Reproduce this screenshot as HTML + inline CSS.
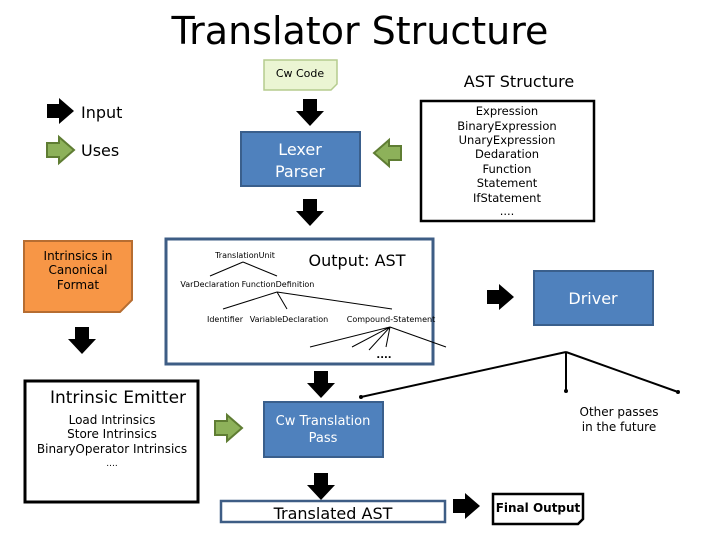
<!DOCTYPE html>
<html><head><meta charset="utf-8"><style>
html,body{margin:0;padding:0;background:#fff;}
svg{display:block;font-family:"DejaVu Sans","Liberation Sans",sans-serif;}
</style></head><body>
<svg width="720" height="540" viewBox="0 0 720 540" xmlns="http://www.w3.org/2000/svg">
<defs>
<path id="dn" d="M-7,0 H7 V12 H14 L0,27 L-14,12 H-7 Z"/>
<path id="rt" d="M0,-7 V7 H12 V13 L27,0 L12,-13 V-7 Z"/>
<path id="lf" d="M0,-7 V7 H-12 V13 L-27,0 L-12,-13 V-7 Z"/>
</defs>
<rect width="720" height="540" fill="#fff"/>
<text x="360" y="44" font-size="38" text-anchor="middle" fill="#000">Translator Structure</text>

<!-- legend -->
<use href="#rt" x="47" y="111" fill="#000"/>
<text x="81" y="118" font-size="16">Input</text>
<use href="#rt" x="47" y="150" fill="#8db15a" stroke="#5f7d33" stroke-width="2"/>
<text x="81" y="156" font-size="16">Uses</text>

<!-- Cw code note -->
<path d="M264,60 H337 V84 L331,90 H264 Z" fill="#ebf5d3" stroke="#b5cc8e" stroke-width="1.5"/>
<text x="300" y="77" font-size="11" text-anchor="middle">Cw Code</text>
<use href="#dn" x="310" y="99" fill="#000"/>

<text x="519" y="87" font-size="16" text-anchor="middle">AST Structure</text>
<rect x="421" y="101" width="173" height="120" fill="#fff" stroke="#000" stroke-width="2.5"/>
<g font-size="11.5" text-anchor="middle">
<text x="507" y="115">Expression</text>
<text x="507" y="130">BinaryExpression</text>
<text x="507" y="144">UnaryExpression</text>
<text x="507" y="158">Dedaration</text>
<text x="507" y="173">Function</text>
<text x="507" y="187">Statement</text>
<text x="507" y="202">IfStatement</text>
<text x="507" y="215">....</text>
</g>

<rect x="241" y="132" width="119" height="54" fill="#4f81bd" stroke="#3a5f8c" stroke-width="2"/>
<text x="300" y="155" font-size="16" text-anchor="middle" fill="#fff">Lexer</text>
<text x="300" y="177" font-size="16" text-anchor="middle" fill="#fff">Parser</text>
<use href="#lf" x="401" y="153" fill="#8db15a" stroke="#5f7d33" stroke-width="2"/>
<use href="#dn" x="310" y="199" fill="#000"/>

<!-- intrinsics note -->
<path d="M24,241 H132 V300 L120,312 H24 Z" fill="#f79646" stroke="#b66d31" stroke-width="2"/>
<text x="78" y="260" font-size="12" text-anchor="middle">Intrinsics in</text>
<text x="78" y="274" font-size="12" text-anchor="middle">Canonical</text>
<text x="78" y="289" font-size="12" text-anchor="middle">Format</text>
<use href="#dn" x="82" y="327" fill="#000"/>

<!-- Output AST -->
<rect x="166" y="239" width="267" height="125" fill="#fff" stroke="#3e5d85" stroke-width="3"/>
<text x="357" y="266" font-size="16" text-anchor="middle">Output: AST</text>
<g font-size="8" text-anchor="middle">
<text x="245" y="258">TranslationUnit</text>
<text x="210" y="287">VarDeclaration</text>
<text x="278" y="287">FunctionDefinition</text>
<text x="225" y="322">Identifier</text>
<text x="289" y="322">VariableDeclaration</text>
<text x="391" y="322">Compound-Statement</text>
</g>
<g stroke="#000" stroke-width="1" fill="none">
<path d="M243,262 L210,276 M243,262 L277,276"/>
<path d="M277,292 L223,309 M277,292 L287,309 M277,292 L392,309"/>
<path d="M390,327 L310,347 M390,327 L352,347 M390,327 L369,350 M390,327 L386,347 M390,327 L446,347"/>
</g>
<text x="384" y="358" font-size="10" text-anchor="middle" font-weight="bold">....</text>

<use href="#rt" x="487" y="297" fill="#000"/>
<rect x="534" y="271" width="119" height="54" fill="#4f81bd" stroke="#3a5f8c" stroke-width="2"/>
<text x="593" y="304" font-size="16" text-anchor="middle" fill="#fff">Driver</text>

<!-- branch lines -->
<g stroke="#000" stroke-width="2" fill="none">
<path d="M566,352 L361,397 M566,352 L566,391 M566,352 L678,392"/>
</g>
<circle cx="361" cy="397" r="2"/><circle cx="566" cy="391" r="2"/><circle cx="678" cy="392" r="2"/>
<text x="619" y="416" font-size="12" text-anchor="middle">Other passes</text>
<text x="619" y="431" font-size="12" text-anchor="middle">in the future</text>

<use href="#dn" x="321" y="371" fill="#000"/>
<rect x="264" y="402" width="119" height="55" fill="#4f81bd" stroke="#3a5f8c" stroke-width="2"/>
<text x="323" y="425" font-size="13" text-anchor="middle" fill="#fff">Cw Translation</text>
<text x="323" y="442" font-size="13" text-anchor="middle" fill="#fff">Pass</text>
<use href="#rt" x="215" y="428" fill="#8db15a" stroke="#5f7d33" stroke-width="2"/>

<!-- Intrinsic Emitter -->
<rect x="25" y="381" width="173" height="121" fill="#fff" stroke="#000" stroke-width="3"/>
<text x="118" y="403" font-size="17" text-anchor="middle">Intrinsic Emitter</text>
<g font-size="12" text-anchor="middle">
<text x="112" y="424">Load Intrinsics</text>
<text x="112" y="438">Store Intrinsics</text>
<text x="112" y="453">BinaryOperator Intrinsics</text>
<text x="112" y="466" font-size="9">....</text>
</g>

<use href="#dn" x="321" y="473" fill="#000"/>
<rect x="221" y="501" width="224" height="21" fill="#fff" stroke="#3e5d85" stroke-width="2.5"/>
<text x="333" y="519" font-size="16" text-anchor="middle">Translated AST</text>
<use href="#rt" x="453" y="506" fill="#000"/>
<path d="M493,494 H583 V519 L578,524 H493 Z" fill="#fff" stroke="#000" stroke-width="2.5"/>
<text x="538" y="512" font-size="12" font-weight="bold" text-anchor="middle">Final Output</text>
</svg>
</body></html>
